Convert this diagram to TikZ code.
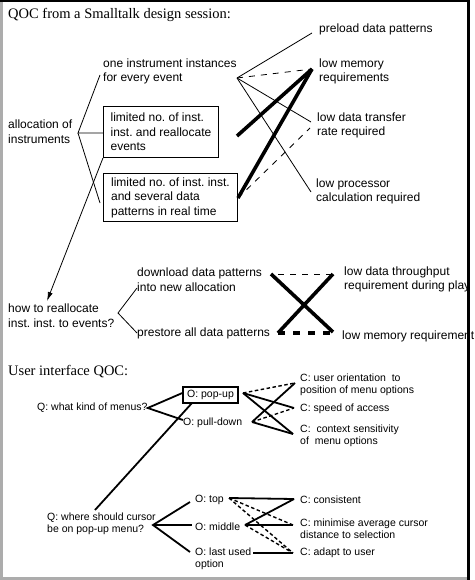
\documentclass[tikz,border=0pt]{standalone}
\usepackage{fontspec}
\usepackage{xcolor}
\usepackage{tikz}
\usetikzlibrary{arrows.meta,positioning}
\newfontfamily\lsans{Liberation Sans}
\newfontfamily\lserif{Liberation Serif}
\definecolor{framegray}{RGB}{172,172,172}
\tikzset{
  % text labels
  lbl/.style={anchor=west, inner sep=0pt, align=left,
    font=\lsans\frenchspacing\fontsize{12}{14.5}\selectfont},
  slbl/.style={lbl, font=\lsans\frenchspacing\fontsize{10.5}{12}\selectfont},
  % section headings
  heading/.style={anchor=west, inner sep=0pt,
    font=\lserif\fontsize{14.5}{17}\selectfont},
  % boxed options
  optbox/.style={lbl, draw, line width=0.9pt, anchor=north west, inner sep=0pt},
  % connectors
  thinln/.style={line width=0.8pt},
  thinda/.style={line width=0.8pt, dash pattern=on 6pt off 6pt},
  fatln/.style={line width=3.6pt},
  fatda/.style={line width=3.6pt, dash pattern=on 7pt off 8pt},
  uiln/.style={line width=1.8pt},
  uida/.style={line width=1.4pt, dash pattern=on 3.5pt off 2.5pt},
}

\begin{document}
\begin{tikzpicture}[x=1pt, y=-1pt]
  \useasboundingbox (0,0) rectangle (474,580);

  % Smalltalk QOC
  \node[heading] (head1) at (8,15) {QOC from a Smalltalk design session:};
  \node[lbl] (alloc) at (8,131.5) {allocation of\\instruments};
  \node[lbl] (oneinst) at (103,71.5) {one instrument instances\\for every event};
  \node[optbox, minimum width=115pt, minimum height=51pt] (box1) at (103,106)
    {limited no. of inst.\\inst. and reallocate\\events};
  \node[optbox, minimum width=134pt, minimum height=48pt] (box2) at (103,173)
    {limited no. of inst. inst.\\and several data\\patterns in real time};
  \node[lbl] (preload) at (319,29) {preload data patterns};
  \node[lbl] (lowmem) at (319,71.5) {low memory\\requirements};
  \node[lbl] (lowdata) at (317,125.5) {low data transfer\\rate required};
  \node[lbl] (lowproc) at (316,191.5) {low processor\\calculation required};

  \coordinate (allocj) at (78,133);
  \coordinate (oneinst-in) at (100,75);
  \coordinate (box2-in) at (100,203);
  \coordinate (oneinst-out) at (237,78);
  \coordinate (box1-out) at (237,136);
  \coordinate (box2-out) at (238,198);
  \coordinate (preload-in) at (312,33);
  \coordinate (lowmem-in) at (312,69);
  \coordinate (lowdata-in) at (311,122);
  \coordinate (lowdata-da) at (310,128);
  \coordinate (lowproc-in) at (311,192);

  \draw[thinln] (oneinst-in) -- (allocj) -- (box1.west |- allocj);
  \draw[thinln] (allocj) -- (box2-in);
  \draw[thinln] (oneinst-out) -- (preload-in);
  \draw[thinda] (oneinst-out) -- (lowmem-in);
  \draw[thinln] (oneinst-out) -- (lowdata-in);
  \draw[thinln] (oneinst-out) -- (lowproc-in);
  \draw[fatln] (box1-out) -- (lowmem-in);
  \draw[fatln] (box2-out) -- (lowmem-in);
  \draw[thinda] (box2-out) -- (lowdata-da);

  % reallocation
  \node[lbl] (howto) at (8,315.5) {how to reallocate\\inst. inst. to events?};
  \node[lbl] (download) at (137,279.5) {download data patterns\\into new allocation};
  \node[lbl] (prestore) at (137,333) {prestore all data patterns};
  \node[lbl] (through) at (344,279.5) {low data throughput\\requirement during play};
  \node[lbl] (lowmem2) at (342,336) {low memory requirement};

  \coordinate (howto-up) at (47,301);
  \coordinate (howto-j) at (118,313);
  \coordinate (download-in) at (137,288);
  \coordinate (prestore-in) at (137,333);
  \coordinate (download-out) at (271,274);
  \coordinate (prestore-out) at (278,333);
  \coordinate (through-in) at (333,274);
  \coordinate (lowmem2-in) at (333,332);

  \draw[thinln, -{Latex[length=9pt,width=5pt]}] (box1.south west) -- (howto-up);
  \draw[thinln] (download-in) -- (howto-j) -- (prestore-in);
  \draw[fatln] (download-out) -- (lowmem2-in);
  \draw[fatln] (prestore-out) -- (through-in);
  \draw[thinda] ([xshift=7pt]download-out |- through-in) -- (through-in);
  \draw[fatda] (prestore-out) -- (lowmem2-in |- prestore-out);

  % user interface QOC
  \node[heading] (head2) at (8,372) {User interface QOC:};
  \node[slbl] (q1) at (37,408) {Q: what kind of menus?};
  \node[slbl, draw, line width=1.3pt, anchor=center, align=center,
    minimum width=55pt, minimum height=16pt] (popup) at (210.5,395) {O: pop-up};
  \node[slbl] (pulldown) at (183,423) {O: pull-down};
  \node[slbl] (orient) at (300,384.5) {C: user orientation~ to\\position of menu options};
  \node[slbl] (speed) at (300,409) {C: speed of access};
  \node[slbl] (context) at (300,436) {C:~ context sensitivity\\of~ menu options};

  \node[slbl] (q2) at (47,524) {Q: where should cursor\\be on pop-up menu?};
  \node[slbl] (top) at (195,500) {O: top};
  \node[slbl] (middle) at (195,527) {O: middle};
  \node[slbl] (last) at (195,558.5) {O: last used\\option};
  \node[slbl] (cons) at (300,500) {C: consistent};
  \node[slbl] (minim) at (300,528.5) {C: minimise average cursor\\distance to selection};
  \node[slbl] (adapt) at (300,553) {C: adapt to user};

  \coordinate (popup-out) at (243,393);
  \coordinate (pull-out) at (252,422);
  \coordinate (orient-in) at (295,383);
  \coordinate (speed-in) at (294,408);
  \coordinate (context-in) at (293,434);
  \coordinate (popup-down) at (192,403);
  \coordinate (q2-up) at (95,510);
  \coordinate (q2-j) at (153,525);
  \coordinate (top-in) at (190,502);
  \coordinate (middle-in) at (192,525);
  \coordinate (last-in) at (190,552);
  \coordinate (top-out) at (229,498);
  \coordinate (middle-out) at (245,525);
  \coordinate (last-out) at (253,553);
  \coordinate (cons-in) at (294,499);
  \coordinate (minim-in) at (293,525);
  \coordinate (adapt-in) at (293,553);

  \draw[uiln] (popup.west |- 0,393) -- (q1.east) -- (pulldown.west |- 0,420);
  \draw[uida] (popup-out) -- (orient-in);
  \draw[uiln] (popup-out) -- (speed-in);
  \draw[uiln] (popup-out) -- (context-in);
  \draw[uiln] (pull-out) -- (orient-in);
  \draw[uida] (pull-out) -- (speed-in);
  \draw[uiln] (pull-out) -- (context-in);
  \draw[uiln] (popup-down) -- (q2-up);
  \draw[uiln] (top-in) -- (q2-j) -- (last-in);
  \draw[uiln] (q2-j) -- (middle-in);
  \draw[uiln] (top-out) -- (cons-in);
  \draw[uida] (top-out) -- (minim-in);
  \draw[uida] (top-out) -- (adapt-in);
  \draw[uiln] (middle-out) -- (cons-in);
  \draw[uiln] (middle-out) -- (minim-in);
  \draw[uida] (middle-out) -- (adapt-in);
  \draw[uiln] (last-out) -- (adapt-in);

  % frame
  \fill[framegray] (0,0) rectangle (3,580);
  \fill[framegray] (0,577) rectangle (468,580);
  \fill[black] (0,0) rectangle (469.5,2.5);
  \fill[black] (467,0) rectangle (469.5,580);
\end{tikzpicture}
\end{document}
